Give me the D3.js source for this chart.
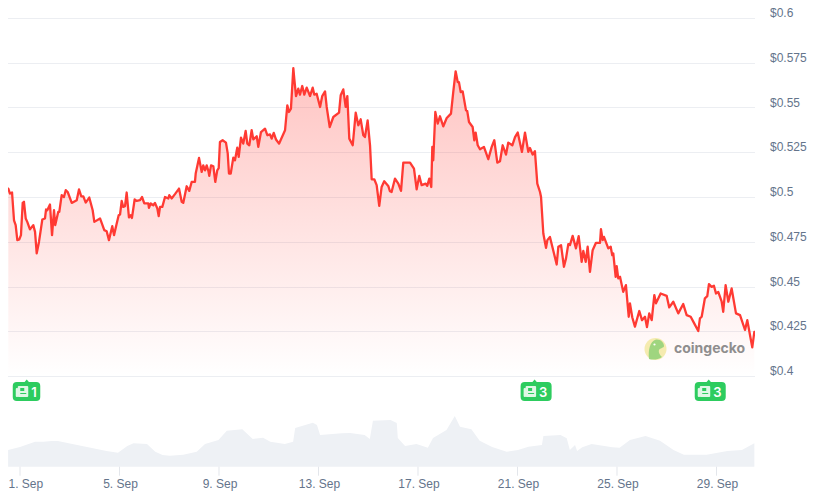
<!DOCTYPE html>
<html>
<head>
<meta charset="utf-8">
<script src="https://cdn.jsdelivr.net/npm/d3@7"></script>
<style>
  html, body { margin: 0; padding: 0; background: #fff; }
  svg { display: block; font-family: Inter, "Open Sans", sans-serif; }
</style>
</head>
<body>
<svg id="chart" width="814" height="501"></svg>
<script>
// Hours since 1 Sep 00:00 and the price at that moment
const priceHours = [-10.8,-9.2,-7.2,-5.3,-3.7,-2.1,-0.2,1.4,3.1,4.3,6,7.5,10.1,13.3,15,16.6,18.8,22,24.6,25.6,26.8,29.4,31.4,33.3,34.5,37.4,38.4,40.7,42.9,44.6,46.5,50.4,55.2,57.4,59.6,61.6,63.9,67.3,70.6,72.2,77.7,81.8,84.1,86.3,89.5,91.2,93.8,95.7,97,98.6,100.1,101.8,103.4,105.6,107.3,108.5,111.1,113.1,116.3,118.2,120.4,124.3,124.9,126.6,129.1,130.7,133,134.3,135.6,137.8,140.4,143.6,144.5,146.8,150,153.9,156.5,158,161.3,163.8,166.1,169.3,170,173.2,175.8,177.3,179,180.6,182.2,183.1,184.8,187,188.9,190.8,192.2,193.4,196,199.2,200.9,202.1,203.8,206.3,207.9,210.1,211.5,213.7,215.9,218.2,219.8,221.7,224,225.6,228.9,230.4,233,236.9,239.1,241.7,243.3,245.3,247.5,250.4,256.2,258.4,260,261.9,264.2,265.1,266.8,269,270.6,272.8,274.8,277.1,280.3,282.9,284.4,286.7,290,292.1,294.8,296.4,299.3,302.8,308.3,309.9,312.4,314.7,316.3,318.2,321.5,324.4,326.9,329.2,331.7,333.3,335.9,338.2,339.8,342.3,344.6,347.1,349.4,351.9,355.8,357.4,359,362.3,365.5,368.1,370.3,376.8,380.6,383.2,385.7,388,391.9,393.4,395.4,397.3,398.3,399.2,401.2,403.5,405.7,408.9,412.2,416.3,418.5,420.8,422.8,424,425.7,427.6,430.8,432,433.7,437.2,438.8,440.1,442.1,444.3,448.1,452.3,455.6,458.1,461,463.6,466.2,469.4,471.6,475.5,478.1,480.7,484.8,487.7,490.9,492.5,495.1,497.3,499.6,502.2,503.2,505.4,508,509.3,511.8,514.1,518.3,519.9,522.5,525.3,527.3,529.5,531.1,533.7,536.9,539.5,542.4,544,546.3,548.2,550.4,553,556.2,560.1,561,562.7,563.9,568.1,570.4,571.9,572.9,575.2,576.2,577.7,579.4,582.5,585.1,587.8,589,591.2,593.8,598,600.6,603.5,605.4,607.6,610,612.5,614.1,618.6,624.4,626.9,630.8,635.6,640.4,643.7,647.6,651,654.9,656.5,658.2,661.3,663.6,665.2,667.8,670,672,674.2,677.5,679,681.3,683.9,687.1,691.3,695.2,700,702.2,704.8,707,709];
const prices = [.5047,.5019,.5025,.4870,.4843,.4759,.4763,.4787,.4967,.4973,.4880,.4861,.4819,.4843,.4805,.4685,.4749,.4874,.4880,.4930,.4926,.4958,.4787,.4926,.4843,.4917,.4917,.5010,.5000,.5038,.5028,.4967,.4982,.5042,.5004,.5004,.4969,.4997,.4926,.4861,.4880,.4815,.4809,.4759,.4837,.4787,.4852,.4898,.4902,.4978,.4945,.4949,.5025,.4886,.4898,.4883,.4986,.4978,.4982,.5000,.4964,.4964,.4939,.4964,.4954,.4967,.4936,.4893,.4945,.4945,.5000,.4992,.5010,.4992,.5016,.5047,.4973,.4967,.5060,.5034,.5084,.5084,.5131,.5218,.5140,.5177,.5149,.5177,.5146,.5118,.5177,.5172,.5084,.5149,.5161,.5307,.5317,.5304,.5244,.5131,.5131,.5220,.5205,.5276,.5224,.5332,.5298,.5369,.5298,.5289,.5373,.5322,.5339,.5280,.5363,.5382,.5345,.5350,.5326,.5358,.5321,.5298,.5373,.5512,.5475,.5494,.5720,.5661,.5564,.5605,.5572,.5620,.5572,.5611,.5564,.5611,.5572,.5577,.5503,.5564,.5590,.5503,.5391,.5447,.5471,.5568,.5601,.5503,.5564,.5326,.5289,.5471,.5401,.5434,.5345,.5335,.5428,.5289,.5099,.5099,.5066,.4950,.5056,.5088,.5062,.5032,.5028,.5103,.5075,.5034,.5192,.5192,.5159,.5043,.5118,.5066,.5075,.5062,.5103,.5056,.5280,.5205,.5475,.5410,.5451,.5395,.5441,.5466,.5586,.5702,.5642,.5642,.5586,.5590,.5484,.5480,.5419,.5391,.5317,.5360,.5289,.5267,.5280,.5211,.5280,.5317,.5192,.5200,.5289,.5237,.5304,.5289,.5335,.5360,.5252,.5360,.5252,.5274,.5237,.5256,.5075,.5028,.5000,.4796,.4716,.4759,.4777,.4722,.4623,.4722,.4731,.4610,.4657,.4737,.4731,.4783,.4713,.4781,.4638,.4699,.4638,.4722,.4582,.4703,.4744,.4744,.4820,.4759,.4777,.4713,.4722,.4675,.4685,.4554,.4614,.4545,.4554,.4470,.4508,.4331,.4406,.4328,.4276,.4363,.4312,.4331,.4273,.4350,.4312,.4452,.4406,.4461,.4448,.4383,.4415,.4350,.4402,.4340,.4331,.4294,.4251,.4322,.4331,.4434,.4446,.4513,.4498,.4504,.4461,.4470,.4415,.4359,.4508,.4415,.4489,.4350,.4340,.4257,.4312,.4229,.4160,.4247];

// Trading volume in the lower pane
const volumeHours = [-11,0.5,15,23,31,37,51,71,84,95,104,110,123,131,138,145,158,171,179,192,200,215,225,235,242,256,264,266,283,287,290,311,319,333,338,341,358,364,365,372,383,394,399,412,420,425,436,444,456,470,481,491,504,505.5,522,528,531,536,538,543,552,572,579,589,604,618,631,641,663,683,697,709];
const volumes = [33.4,39.4,50,50,51.4,51.4,45.4,36.8,31.4,28,41.4,46.8,45.4,30,23.4,22,24,30,45.4,53.4,72,74.8,55.4,58,50,45.4,50,77.4,88,83.4,63.4,66.8,67.4,63.4,55.4,92,93.4,87.4,57.4,41.4,45.4,38,57.4,73.4,101.4,80,74.8,52,39.4,30,33.4,40,43.4,61.4,63.4,56.8,33.4,43.4,31.4,38.8,45.4,38.8,38,53.4,61.4,52,33.4,24,24,31.4,33.4,46.8];

// Axis ticks
const priceTicks = [0.4, 0.425, 0.45, 0.475, 0.5, 0.525, 0.55, 0.575, 0.6];
const priceTickLabels = ["$0.4", "$0.425", "$0.45", "$0.475", "$0.5", "$0.525", "$0.55", "$0.575", "$0.6"];
const dateTickHours = [0, 96, 192, 288, 384, 480, 576, 672];
const dateTickLabels = ["1. Sep", "5. Sep", "9. Sep", "13. Sep", "17. Sep", "21. Sep", "25. Sep", "29. Sep"];

// News flags under the price pane
const newsHours = [7, 497, 665];
const newsCounts = [1, 3, 3];

const GREEN = "#2dcc5f", GRID = "#eceef2", LABEL = "#64748b";
const left = 8, right = 755;

const svg = d3.select("#chart");
const x = d3.scaleLinear().domain([0, 708]).range([19.5, 753.3]);
const y = d3.scaleLinear().domain([0.4, 0.6]).range([376, 18]);
const yVol = d3.scaleLinear().domain([0, 100]).range([466.7, 416.7]);

const defs = svg.append("defs");
defs.append("clipPath").attr("id", "plotClip").append("rect")
  .attr("x", left).attr("y", 0).attr("width", right - left).attr("height", 501);

const grad = defs.append("linearGradient").attr("id", "priceFill")
  .attr("gradientUnits", "userSpaceOnUse")
  .attr("x1", 0).attr("x2", 0).attr("y1", y(0.572)).attr("y2", y(0.4));
grad.append("stop").attr("offset", 0).attr("stop-color", "#ff3a33").attr("stop-opacity", 0.3);
grad.append("stop").attr("offset", 1).attr("stop-color", "#ff3a33").attr("stop-opacity", 0);

// Price axis with gridlines running across the pane
const yAxis = d3.axisRight(y).tickValues(priceTicks)
  .tickFormat((d, i) => priceTickLabels[i]).tickSize(0).tickPadding(0);
const yG = svg.append("g").attr("transform", `translate(770,0)`).call(yAxis);
yG.select(".domain").remove();
yG.selectAll("text").attr("fill", LABEL).attr("font-size", 12).attr("dy", "-0.12em");

svg.append("g").selectAll("line").data(priceTicks).join("line")
  .attr("x1", left).attr("x2", right)
  .attr("y1", d => Math.round(y(d)) + 0.5).attr("y2", d => Math.round(y(d)) + 0.5)
  .attr("stroke", GRID).attr("stroke-width", 1);

// Volume pane
const pane = svg.append("g").attr("clip-path", "url(#plotClip)");
pane.append("path")
  .attr("d", d3.area().x(d => x(volumeHours[d])).y0(yVol(0)).y1(d => yVol(volumes[d]))(d3.range(volumes.length)))
  .attr("fill", "#eef1f5");

// Price area and line
pane.append("path")
  .attr("d", d3.area().x(d => x(priceHours[d])).y0(y(0.4)).y1(d => y(prices[d]))(d3.range(prices.length)))
  .attr("fill", "url(#priceFill)");
pane.append("path")
  .attr("d", d3.line().x(d => x(priceHours[d])).y(d => y(prices[d]))(d3.range(prices.length)))
  .attr("fill", "none").attr("stroke", "#ff3a33").attr("stroke-width", 2.3)
  .attr("stroke-linejoin", "round").attr("stroke-linecap", "round");

// Date axis
const xAxis = d3.axisBottom(x).tickValues(dateTickHours)
  .tickFormat((d, i) => dateTickLabels[i]).tickSize(9).tickPadding(4);
const xG = svg.append("g").attr("transform", `translate(0,${yVol(0)})`).call(xAxis);
xG.select(".domain").remove();
xG.selectAll("line").attr("stroke", "#e3e6eb");
xG.selectAll("text").attr("fill", LABEL).attr("font-size", 12)
  .attr("text-anchor", (d, i) => i === 0 ? "start" : "middle")
  .attr("x", (d, i) => i === 0 ? left - x(d) : 1);

// News flags: the badge hugs its count, so a "1" gets a narrower one
const flag = svg.append("g").selectAll("g").data(newsHours).join("g")
  .attr("transform", d => `translate(${x(d)},0)`);
flag.append("path").attr("d", "M-3,383 L0,379.5 L3,383 Z").attr("fill", GREEN);
flag.append("rect").attr("x", -14).attr("y", 382).attr("height", 19).attr("rx", 4)
  .attr("width", (d, i) => newsCounts[i] === 1 ? 27.5 : 31)
  .attr("fill", GREEN);
// newspaper glyph
flag.append("rect").attr("x", -9).attr("y", 386).attr("width", 10.5).attr("height", 11).attr("rx", 1).attr("fill", "#dff7e6");
flag.append("rect").attr("x", -11).attr("y", 388).attr("width", 2.5).attr("height", 9).attr("rx", 1).attr("fill", "#dff7e6");
flag.append("rect").attr("x", -6.5).attr("y", 388).attr("width", 4).attr("height", 3).attr("fill", GREEN);
flag.append("rect").attr("x", -6.5).attr("y", 393).attr("width", 6).attr("height", 1).attr("fill", GREEN);
flag.append("text").attr("x", 4.5).attr("y", 396.5)
  .attr("fill", "#fff").attr("font-size", 13).attr("font-weight", 600)
  .text((d, i) => newsCounts[i]);

// Watermark
const mark = svg.append("g").attr("opacity", 0.85);
mark.append("circle").attr("cx", 655.5).attr("cy", 349).attr("r", 11).attr("fill", "#f4e9a3");
mark.append("path").attr("d", "M649,359 C648,350 650,341 656,339.5 C661,339 664,343 664,346 C664,348 660,348 659,350 C658,353 661,356 662,357 C658,360 652,360 649,359 Z")
  .attr("fill", "#8fcf6a");
mark.append("circle").attr("cx", 654.5).attr("cy", 344.5).attr("r", 1.1).attr("fill", "#fff");
mark.append("text").attr("x", 674).attr("y", 353).attr("font-size", 14).attr("font-weight", 700)
  .attr("letter-spacing", "0px").attr("fill", "#7c7c7c").text("coingecko");
</script>
</body>
</html>
